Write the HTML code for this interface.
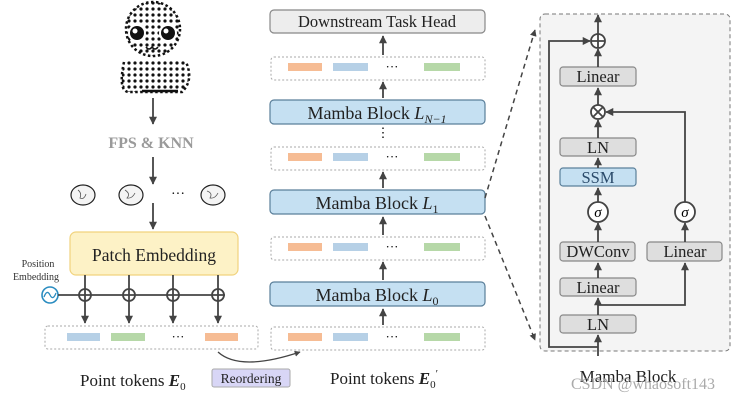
<!DOCTYPE html>
<html><head><meta charset="utf-8"><style>
body{margin:0;background:#fff}
svg{display:block}
text{font-family:"Liberation Serif",serif}
</style></head><body>
<svg width="738" height="400" viewBox="0 0 738 400" xmlns="http://www.w3.org/2000/svg">
<defs>
<marker id="a" viewBox="0 0 10 10" refX="9" refY="5" markerWidth="4.5" markerHeight="4.5" orient="auto"><path d="M0,0L10,5L0,10z" fill="#444"/></marker>
<pattern id="dots" width="6" height="6" patternUnits="userSpaceOnUse"><circle cx="3" cy="3" r="1.6" fill="#111"/></pattern>
</defs>
<!-- mascot -->
<circle cx="153" cy="29" r="27" fill="url(#dots)"/>
<circle cx="153" cy="29" r="27" fill="none" stroke="#111" stroke-width="2.5" stroke-dasharray="2.5,2.5"/>
<path d="M124,62 Q118,90 128,92 L182,92 Q194,80 186,62 Q170,56 124,62z" fill="url(#dots)"/>
<path d="M124,62 Q118,90 128,92 L182,92 Q194,80 186,62" fill="none" stroke="#111" stroke-width="2.5" stroke-dasharray="2.5,2.5"/>
<circle cx="137" cy="33" r="9" fill="#fff"/><circle cx="137" cy="33" r="7" fill="#111"/><circle cx="135" cy="31" r="2.5" fill="#fff"/>
<circle cx="168" cy="33" r="9" fill="#fff"/><circle cx="168" cy="33" r="7" fill="#111"/><circle cx="166" cy="31" r="2.5" fill="#fff"/>
<path d="M146,47 q3,4 6,0 q3,4 6,0" stroke="#111" stroke-width="1.5" fill="none"/>
<path d="M142,91 L178,91" stroke="#111" stroke-width="2.5"/>
<g stroke="#444" stroke-width="1.8" fill="none">
<line x1="153" y1="98" x2="153" y2="124" marker-end="url(#a)"/>
<line x1="153" y1="157" x2="153" y2="184" marker-end="url(#a)"/>
<line x1="153" y1="203" x2="153" y2="229" marker-end="url(#a)"/>
</g>
<text x="151" y="148" font-size="16" font-weight="bold" fill="#9a9a9a" text-anchor="middle">FPS &amp; KNN</text>
<g stroke="#222" stroke-width="1.2" fill="#f4f4f4">
<ellipse cx="83" cy="195" rx="12" ry="10"/><ellipse cx="131" cy="195" rx="12" ry="10"/><ellipse cx="213" cy="195" rx="12" ry="10"/>
</g>
<g stroke="#555" stroke-width="0.8" fill="none"><path d="M78,190 q4,3 2,8 q4,2 6,-4M125,190 q6,4 2,8 q5,1 8,-5M207,191 q6,2 3,7 q5,1 8,-5"/></g>
<text x="178" y="198" font-size="14" text-anchor="middle">···</text>
<rect x="70" y="232" width="168" height="43" rx="6" fill="#fdf2c6" stroke="#f1d37e" stroke-width="1.2"/>
<text x="154" y="261" font-size="17.5" text-anchor="middle" fill="#222">Patch Embedding</text>
<text x="38" y="267" font-size="10" text-anchor="middle" fill="#333">Position</text>
<text x="36" y="280" font-size="10" text-anchor="middle" fill="#333">Embedding</text>
<circle cx="50" cy="295" r="8" fill="#fff" stroke="#2a8cc0" stroke-width="1.6"/>
<path d="M44,297 q3,-8 6,-2 q3,6 6,-2" stroke="#2a8cc0" stroke-width="1.3" fill="none"/>
<line x1="58" y1="295" x2="225" y2="295" stroke="#444" stroke-width="1.8"/>
<g stroke="#444" stroke-width="1.8" fill="none">
<line x1="85" y1="275" x2="85" y2="323" marker-end="url(#a)"/>
<line x1="129" y1="275" x2="129" y2="323" marker-end="url(#a)"/>
<line x1="173" y1="275" x2="173" y2="323" marker-end="url(#a)"/>
<line x1="218" y1="275" x2="218" y2="323" marker-end="url(#a)"/>
<circle cx="85" cy="295" r="6" fill="#fff"/><circle cx="129" cy="295" r="6" fill="#fff"/><circle cx="173" cy="295" r="6" fill="#fff"/><circle cx="218" cy="295" r="6" fill="#fff"/>
<path d="M79,295h12M85,289v12M123,295h12M129,289v12M167,295h12M173,289v12M212,295h12M218,289v12"/>
</g>
<rect x="45" y="326" width="213" height="23" rx="3" fill="none" stroke="#aaa" stroke-dasharray="2,2"/>
<rect x="67" y="333" width="33" height="8" fill="#b6d0e6"/><rect x="111" y="333" width="34" height="8" fill="#b6d8a8"/>
<text x="178" y="341" font-size="13" text-anchor="middle">···</text>
<rect x="205" y="333" width="33" height="8" fill="#f6bc94"/>
<text x="80" y="386" font-size="17" fill="#222">Point tokens <tspan font-weight="bold" font-style="italic">E</tspan><tspan font-size="11" dy="4">0</tspan></text>
<path d="M218,352 Q240,372 300,352" stroke="#444" stroke-width="1.3" fill="none" marker-end="url(#a)"/>
<rect x="212" y="369" width="78" height="18" rx="2" fill="#d8d6f6" stroke="#aaa"/>
<text x="251" y="383" font-size="13.5" text-anchor="middle" fill="#222">Reordering</text>
<!-- middle -->
<rect x="270" y="10" width="215" height="23" rx="4" fill="#ededed" stroke="#888" stroke-width="1.2"/>
<text x="377" y="27" font-size="16.5" text-anchor="middle" fill="#222">Downstream Task Head</text>
<g fill="#c5e0f2" stroke="#5a7f9a" stroke-width="1.2">
<rect x="270" y="100" width="215" height="24" rx="4"/>
<rect x="270" y="190" width="215" height="24" rx="4"/>
<rect x="270" y="282" width="215" height="24" rx="4"/>
</g>
<text x="377" y="119" font-size="18" text-anchor="middle" fill="#222">Mamba Block <tspan font-style="italic">L</tspan><tspan font-style="italic" font-size="12" dy="4">N−1</tspan></text>
<text x="377" y="209" font-size="18" text-anchor="middle" fill="#222">Mamba Block <tspan font-style="italic">L</tspan><tspan font-size="12" dy="4">1</tspan></text>
<text x="377" y="301" font-size="18" text-anchor="middle" fill="#222">Mamba Block <tspan font-style="italic">L</tspan><tspan font-size="12" dy="4">0</tspan></text>
<g id="row">
<rect x="271" y="57" width="214" height="23" rx="3" fill="none" stroke="#aaa" stroke-dasharray="2,2"/>
<rect x="288" y="63" width="34" height="8" fill="#f6bc94"/><rect x="333" y="63" width="35" height="8" fill="#b6d0e6"/>
<text x="392" y="71" font-size="13" text-anchor="middle">···</text>
<rect x="424" y="63" width="36" height="8" fill="#b6d8a8"/>
</g>
<use href="#row" y="90"/><use href="#row" y="180"/><use href="#row" y="270"/>
<text x="330" y="384" font-size="17" fill="#222">Point tokens <tspan font-weight="bold" font-style="italic">E</tspan><tspan font-size="11" dy="4">0</tspan><tspan font-size="11" dy="-11">′</tspan></text>
<g stroke="#444" stroke-width="1.8" fill="none">
<line x1="383" y1="55" x2="383" y2="36" marker-end="url(#a)"/>
<line x1="383" y1="98" x2="383" y2="82" marker-end="url(#a)"/>
<line x1="383" y1="188" x2="383" y2="172" marker-end="url(#a)"/>
<line x1="383" y1="235" x2="383" y2="217" marker-end="url(#a)"/>
<line x1="383" y1="280" x2="383" y2="262" marker-end="url(#a)"/>
<line x1="383" y1="325" x2="383" y2="309" marker-end="url(#a)"/>
</g>
<text x="383" y="137" font-size="13" text-anchor="middle">⋮</text>
<g stroke="#444" stroke-width="1.5" stroke-dasharray="5,4" fill="none">
<line x1="485" y1="198" x2="535" y2="30" marker-end="url(#a)"/>
<line x1="485" y1="216" x2="535" y2="340" marker-end="url(#a)"/>
</g>
<!-- right -->
<rect x="540" y="14" width="190" height="337" rx="5" fill="#f4f4f4" stroke="#777" stroke-dasharray="4,3"/>
<g fill="#dedede" stroke="#888" stroke-width="1.2">
<rect x="560" y="67" width="76" height="19" rx="3"/>
<rect x="560" y="138" width="76" height="18" rx="3"/>
<rect x="560" y="242" width="75" height="19" rx="3"/>
<rect x="560" y="278" width="76" height="18" rx="3"/>
<rect x="560" y="315" width="76" height="18" rx="3"/>
<rect x="647" y="242" width="75" height="19" rx="3"/>
</g>
<rect x="560" y="168" width="76" height="18" rx="3" fill="#c5e0f2" stroke="#5a7f9a" stroke-width="1.2"/>
<g font-size="16.5" text-anchor="middle" fill="#222">
<text x="598" y="82">Linear</text><text x="598" y="153">LN</text><text x="598" y="183" fill="#2a4a6a">SSM</text>
<text x="598" y="257">DWConv</text><text x="598" y="293">Linear</text><text x="598" y="330">LN</text><text x="685" y="257">Linear</text>
</g>
<g stroke="#444" stroke-width="1.8" fill="none">
<line x1="598" y1="356" x2="598" y2="335" marker-end="url(#a)"/>
<line x1="598" y1="315" x2="598" y2="298" marker-end="url(#a)"/>
<line x1="598" y1="278" x2="598" y2="263" marker-end="url(#a)"/>
<line x1="598" y1="242" x2="598" y2="223" marker-end="url(#a)"/>
<line x1="598" y1="202" x2="598" y2="188" marker-end="url(#a)"/>
<line x1="598" y1="168" x2="598" y2="158" marker-end="url(#a)"/>
<line x1="598" y1="138" x2="598" y2="120" marker-end="url(#a)"/>
<line x1="598" y1="105" x2="598" y2="88" marker-end="url(#a)"/>
<line x1="598" y1="67" x2="598" y2="49" marker-end="url(#a)"/>
<line x1="598" y1="34" x2="598" y2="15" marker-end="url(#a)"/>
<path d="M598,305 H685 V263" marker-end="url(#a)"/>
<line x1="685" y1="242" x2="685" y2="223" marker-end="url(#a)"/>
<path d="M685,202 V112 H606" marker-end="url(#a)"/>
<path d="M598,347 H549 V41 H590" marker-end="url(#a)"/>
<circle cx="598" cy="41" r="7" fill="#fff"/><path d="M591,41h14M598,34v14"/>
<circle cx="598" cy="112" r="7" fill="#fff"/><path d="M593,107l10,10M603,107l-10,10"/>
<circle cx="598" cy="212" r="10" fill="#fff"/><circle cx="685" cy="212" r="10" fill="#fff"/>
</g>
<text x="598" y="217" font-size="15" font-style="italic" text-anchor="middle">σ</text>
<text x="685" y="217" font-size="15" font-style="italic" text-anchor="middle">σ</text>
<text x="628" y="382" font-size="17" text-anchor="middle" fill="#222">Mamba Block</text>
<text x="643" y="389" font-size="16" text-anchor="middle" fill="#aaa" font-family="Liberation Sans,sans-serif">CSDN @whaosoft143</text>
</svg>
</body></html>
